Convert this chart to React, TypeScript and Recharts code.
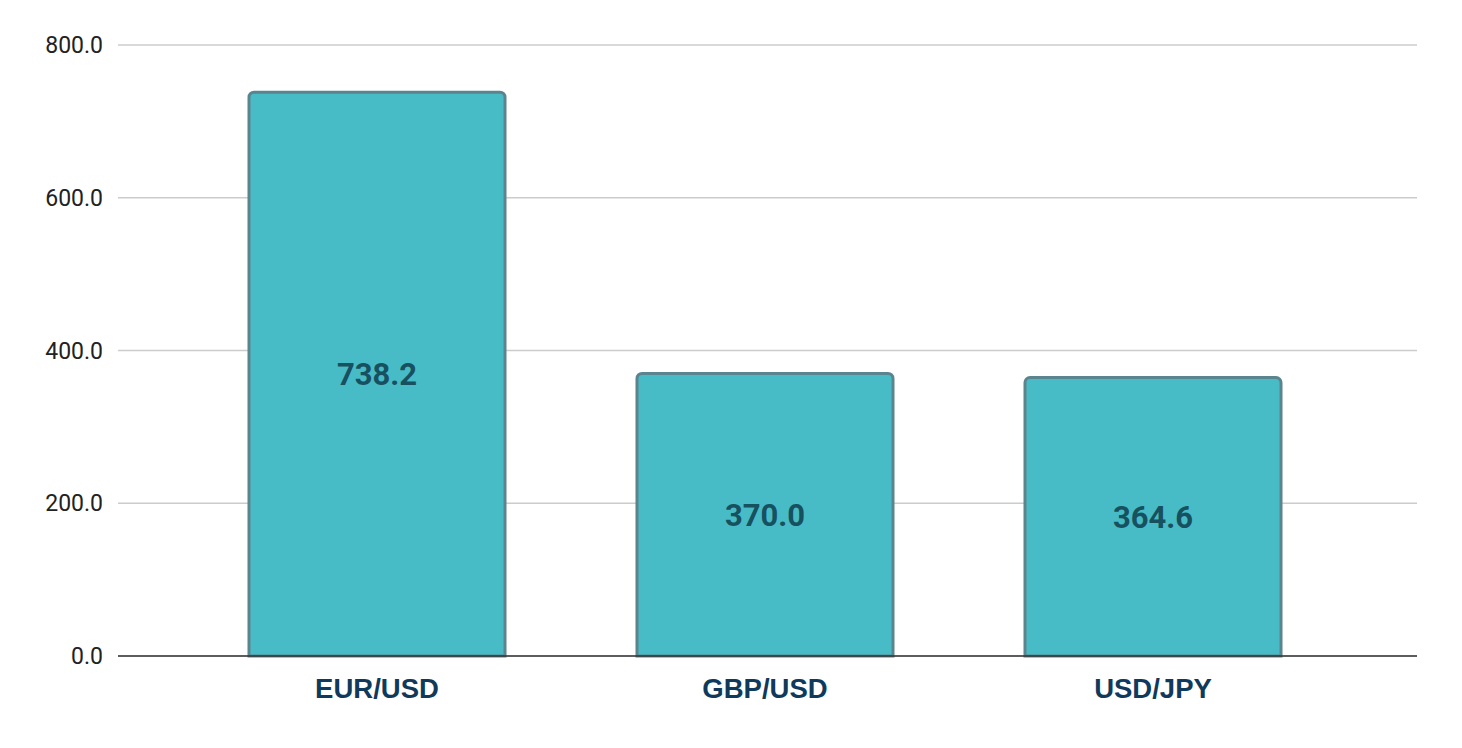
import { BarChart, Bar, XAxis, YAxis, CartesianGrid, LabelList } from 'recharts';

const pairs = ['EUR/USD', 'GBP/USD', 'USD/JPY'];
const volumes = [738.2, 370.0, 364.6];
const yTicks = [0, 200, 400, 600, 800];

export default function App() {
  const data = pairs.map((pair, i) => ({ pair, value: volumes[i] }));

  return (
    <div style={{ width: 1462, height: 748, background: '#fff' }}>
      <style>{'body { margin: 0; }'}</style>
      <BarChart
        width={1462}
        height={748}
        data={data}
        margin={{ top: 45, right: 45, bottom: 0, left: 0 }}
      >
        <CartesianGrid vertical={false} stroke="#cccccc" strokeWidth={1.3} />
        <XAxis
          dataKey="pair"
          height={92}
          padding={{ left: 65, right: 70 }}
          tickLine={false}
          axisLine={{ stroke: '#333333', strokeWidth: 1.5 }}
          tickMargin={16}
          tick={{ fill: '#0f3a5c', fontSize: 27.5, fontWeight: 'bold', fontFamily: 'Liberation Sans' }}
        />
        <YAxis
          width={118}
          domain={[0, 800]}
          ticks={yTicks}
          axisLine={false}
          tickLine={false}
          tickMargin={9}
          tickFormatter={(v: number) => v.toFixed(1)}
          tick={{ fill: '#222222', fontSize: 23, fontFamily: 'Roboto' }}
        />
        <Bar
          dataKey="value"
          barSize={256}
          fill="#48bcc6"
          stroke="#5a848e"
          strokeWidth={3}
          radius={[5, 5, 0, 0]}
          isAnimationActive={false}
        >
          <LabelList
            dataKey="value"
            position="center"
            formatter={(v: number) => v.toFixed(1)}
            fill="#17505f"
            fontSize={31}
            fontWeight="bold"
            fontFamily="Roboto"
          />
        </Bar>
      </BarChart>
    </div>
  );
}
